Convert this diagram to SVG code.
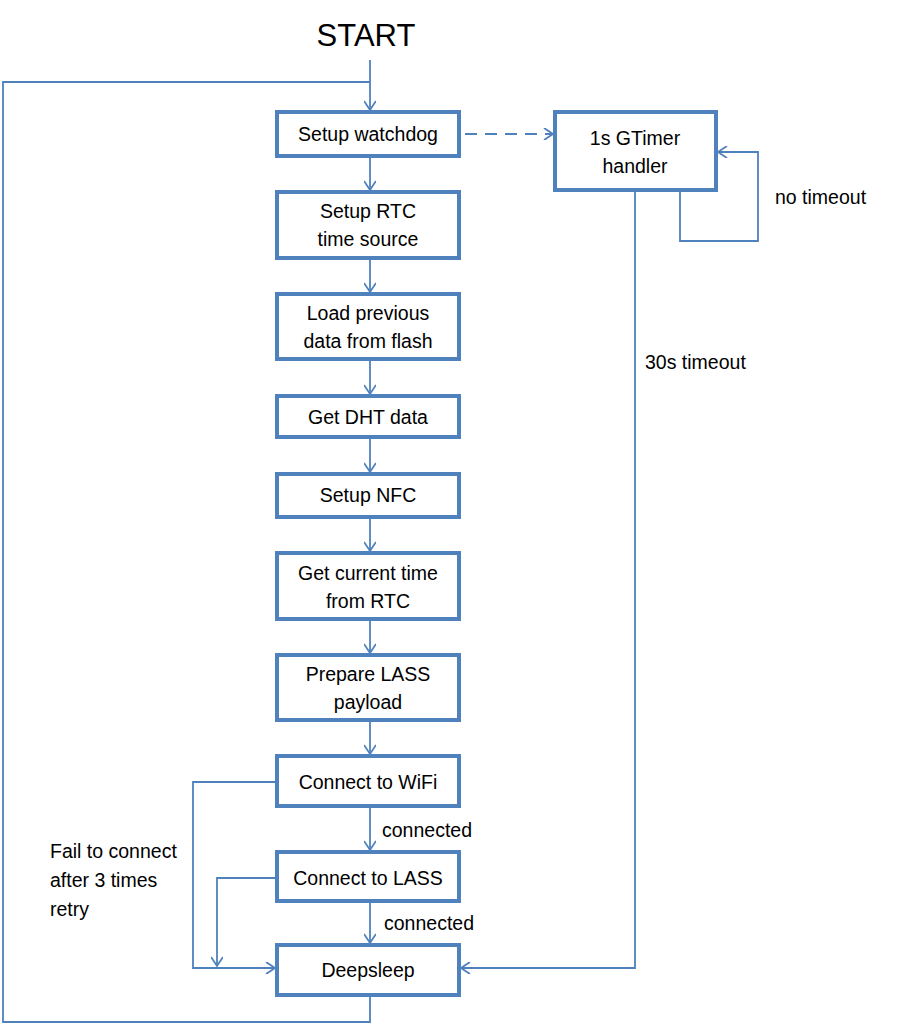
<svg xmlns="http://www.w3.org/2000/svg" width="898" height="1024" viewBox="0 0 898 1024">
<style>
.b{fill:#fff;stroke:#4f81bd;stroke-width:4}
.t{font-family:"Liberation Sans",Arial,sans-serif;font-size:19.5px;fill:#000;text-anchor:middle}
.l{font-family:"Liberation Sans",Arial,sans-serif;font-size:19.5px;fill:#000}
.c{fill:none;stroke:#4f81bd;stroke-width:1.8}
</style>
<defs><marker id="a" markerWidth="12" markerHeight="12" refX="10" refY="6" orient="auto" markerUnits="userSpaceOnUse"><path d="M1,0 L10,6 L1,12" fill="none" stroke="#4f81bd" stroke-width="1.8"/></marker></defs>
<text x="366" y="46" class="t" style="font-size:31px">START</text>
<g id="connectors">
<path class="c" d="M370,60 V110" marker-end="url(#a)"/>
<path class="c" d="M370,995 V1022 H3 V82 H370"/>
<path class="c" d="M370,156 V190" marker-end="url(#a)"/>
<path class="c" d="M370,258 V292" marker-end="url(#a)"/>
<path class="c" d="M370,359 V394" marker-end="url(#a)"/>
<path class="c" d="M370,437 V472" marker-end="url(#a)"/>
<path class="c" d="M370,517 V551" marker-end="url(#a)"/>
<path class="c" d="M370,619 V653" marker-end="url(#a)"/>
<path class="c" d="M370,720 V754" marker-end="url(#a)"/>
<path class="c" d="M370,806 V850" marker-end="url(#a)"/>
<path class="c" d="M370,901 V943" marker-end="url(#a)"/>
<path class="c" d="M465,134 H553" stroke-dasharray="12,8" marker-end="url(#a)"/>
<path class="c" d="M680,190 V241 H758 V152 H718" marker-end="url(#a)"/>
<path class="c" d="M635,190 V968 H461" marker-end="url(#a)"/>
<path class="c" d="M277,782 H193 V968 H275" marker-end="url(#a)"/>
<path class="c" d="M277,878 H217 V966" marker-end="url(#a)"/>
</g>
<text x="775" y="204" class="l">no timeout</text>
<text x="645" y="369" class="l">30s timeout</text>
<text x="382" y="837" class="l">connected</text>
<text x="384" y="930" class="l">connected</text>
<text class="l"><tspan x="50" y="858">Fail to connect</tspan><tspan x="50" y="887">after 3 times</tspan><tspan x="50" y="916">retry</tspan></text>
<g id="n1"><rect class="b" x="277" y="112" width="182" height="44"/><text x="368" y="141" class="t">Setup watchdog</text></g>
<g id="n2"><rect class="b" x="277" y="192" width="182" height="66"/><text x="368" y="218" class="t">Setup RTC</text><text x="368" y="246" class="t">time source</text></g>
<g id="n3"><rect class="b" x="277" y="294" width="182" height="65"/><text x="368" y="320" class="t">Load previous</text><text x="368" y="348" class="t">data from flash</text></g>
<g id="n4"><rect class="b" x="277" y="396" width="182" height="41"/><text x="368" y="424" class="t">Get DHT data</text></g>
<g id="n5"><rect class="b" x="277" y="474" width="182" height="43"/><text x="368" y="502" class="t">Setup NFC</text></g>
<g id="n6"><rect class="b" x="277" y="553" width="182" height="66"/><text x="368" y="580" class="t">Get current time</text><text x="368" y="608" class="t">from RTC</text></g>
<g id="n7"><rect class="b" x="277" y="655" width="182" height="65"/><text x="368" y="681" class="t">Prepare LASS</text><text x="368" y="709" class="t">payload</text></g>
<g id="n8"><rect class="b" x="277" y="756" width="182" height="50"/><text x="368" y="789" class="t">Connect to WiFi</text></g>
<g id="n9"><rect class="b" x="277" y="852" width="182" height="49"/><text x="368" y="885" class="t">Connect to LASS</text></g>
<g id="n10"><rect class="b" x="277" y="945" width="182" height="50"/><text x="368" y="977" class="t">Deepsleep</text></g>
<g id="n11"><rect class="b" x="555" y="112" width="161" height="78"/><text x="635" y="145" class="t">1s GTimer</text><text x="635" y="173" class="t">handler</text></g>
</svg>
